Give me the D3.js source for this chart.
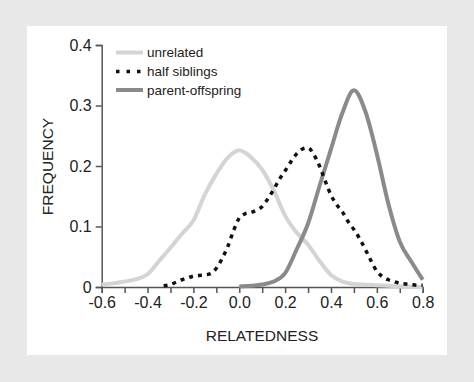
<!DOCTYPE html>
<html><head><meta charset="utf-8">
<script src="https://cdn.jsdelivr.net/npm/d3@7"></script>
<style>
html,body{margin:0;padding:0;background:#e8e8e8;}
svg{display:block;}
text{font-family:"Liberation Sans",Arial,Helvetica,sans-serif;fill:#222;}
</style></head>
<body>
<svg id="c" width="474" height="382"></svg>
<script>
// ---- data ----
const relatedness = [-0.6,-0.55,-0.5,-0.45,-0.4,-0.35,-0.3,-0.25,-0.2,-0.15,-0.1,-0.05,0,0.05,0.1,0.15,0.2,0.25,0.3,0.35,0.4,0.45,0.5,0.55,0.6,0.65,0.7,0.75,0.8];
const unrelated =   [0.004,0.006,0.009,0.013,0.021,0.043,0.065,0.088,0.11,0.153,0.187,0.214,0.226,0.215,0.194,0.16,0.118,0.09,0.07,0.043,0.02,0.009,0.005,0.004,0.003,0.002,0.001,0.001,0.0];
const parentOffspring = [null,null,null,null,null,null,null,null,null,null,null,null,0.001,0.002,0.004,0.009,0.023,0.062,0.105,0.167,0.228,0.288,0.325,0.29,0.22,0.138,0.075,0.042,0.012];
const halfSibX = [-0.33,-0.3,-0.275,-0.25,-0.225,-0.2,-0.175,-0.15,-0.125,-0.1,-0.075,-0.05,-0.025,0,0.025,0.05,0.075,0.1,0.125,0.15,0.175,0.2,0.225,0.25,0.275,0.3,0.325,0.35,0.375,0.4,0.425,0.45,0.475,0.5,0.525,0.55,0.575,0.6,0.625,0.65,0.675,0.7,0.725,0.75,0.775,0.8];
const halfSiblings = [0.002,0.004,0.008,0.012,0.015,0.018,0.019,0.02,0.022,0.031,0.047,0.067,0.093,0.114,0.121,0.123,0.127,0.133,0.146,0.161,0.178,0.192,0.207,0.22,0.228,0.23,0.219,0.2,0.175,0.152,0.136,0.124,0.108,0.095,0.08,0.062,0.043,0.026,0.017,0.012,0.009,0.006,0.005,0.004,0.003,0.003];
const xTicks = [-0.6,-0.5,-0.4,-0.3,-0.2,-0.1,0,0.1,0.2,0.3,0.4,0.5,0.6,0.7,0.8];
const xTickLabels = ["-0.6","-0.4","-0.2","0.0","0.2","0.4","0.6","0.8"];
const yTicks = [0,0.1,0.2,0.3,0.4];
const yTickLabels = ["0","0.1","0.2","0.3","0.4"];
const seriesNames = ["unrelated","half siblings","parent-offspring"];

// ---- drawing ----
const svg = d3.select("#c");
svg.append("rect").attr("x",27).attr("y",26).attr("width",420).attr("height",329).attr("fill","#fff");

const x = d3.scaleLinear().domain([-0.6,0.8]).range([101.7,422.7]);
const y = d3.scaleLinear().domain([0,0.4]).range([287,45]);

const axisColor = "#555";
// x axis
const xa = svg.append("g").attr("transform","translate(0,287)")
  .call(d3.axisBottom(x).tickValues(xTicks).tickSize(6).tickFormat(d=>{
    const i = xTickLabels.findIndex(l=>Math.abs(+l-d)<1e-9);
    return i>=0 ? xTickLabels[i] : "";
  }).tickPadding(4));
xa.select(".domain").attr("stroke",axisColor).attr("stroke-width",1.5);
xa.selectAll(".tick line").attr("stroke",axisColor).attr("stroke-width",1.5);
xa.selectAll(".tick text").attr("font-size",16).attr("fill","#222").attr("font-family","Liberation Sans, Arial, sans-serif");

// y axis
const ya = svg.append("g").attr("transform","translate(101.7,0)")
  .call(d3.axisLeft(y).tickValues(yTicks).tickSize(6).tickFormat((d,i)=>yTickLabels[i]).tickPadding(4));
ya.select(".domain").attr("stroke",axisColor).attr("stroke-width",1.5);
ya.selectAll(".tick line").attr("stroke",axisColor).attr("stroke-width",1.5);
ya.selectAll(".tick text").attr("font-size",16).attr("fill","#222").attr("font-family","Liberation Sans, Arial, sans-serif");

// axis titles
svg.append("text").attr("x",262).attr("y",341).attr("text-anchor","middle").attr("font-size",15.5).text("RELATEDNESS");
svg.append("text").attr("transform","translate(53,166.5) rotate(-90)").attr("text-anchor","middle").attr("font-size",15.5).text("FREQUENCY");

const line = d3.line().defined(d=>d[1]!=null).x(d=>x(d[0])).y(d=>y(d[1])).curve(d3.curveMonotoneX);

svg.append("path").datum(relatedness.map((v,i)=>[v,unrelated[i]]))
  .attr("d",line).attr("fill","none").attr("stroke","#d4d4d4").attr("stroke-width",4);
svg.append("path").datum(relatedness.map((v,i)=>[v,parentOffspring[i]]))
  .attr("d",line).attr("fill","none").attr("stroke","#8a8a8a").attr("stroke-width",4);
svg.append("path").datum(halfSibX.map((v,i)=>[v,halfSiblings[i]]))
  .attr("d",line).attr("fill","none").attr("stroke","#111").attr("stroke-width",3.5).attr("stroke-dasharray","4,5");

// legend
const leg = [
  {name:seriesNames[0], color:"#d4d4d4", dash:null, w:4},
  {name:seriesNames[1], color:"#111", dash:"3.5,7", w:3.5},
  {name:seriesNames[2], color:"#8a8a8a", dash:null, w:4}
];
const ly = [52.5,71.5,90];
leg.forEach((d,i)=>{
  svg.append("line").attr("x1",116).attr("x2",143).attr("y1",ly[i]).attr("y2",ly[i])
    .attr("stroke",d.color).attr("stroke-width",d.w).attr("stroke-dasharray",d.dash);
  svg.append("text").attr("x",147).attr("y",ly[i]).attr("dy","0.35em").attr("font-size",13.5).text(d.name);
});
</script>
</body></html>
